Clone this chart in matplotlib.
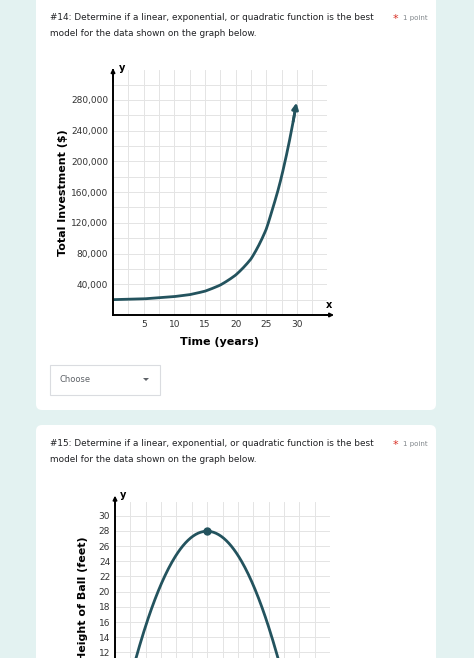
import matplotlib.pyplot as plt
import matplotlib.patches as patches
import numpy as np

W, H = 474, 658

# chart 1 data
years = [0, 2.5, 5, 7.5, 10, 12.5, 15, 17.5, 20, 22.5, 25, 26, 27, 28, 29, 30]
invest = [20000, 20500, 21000, 22500, 24000, 26500, 31000, 39000, 52000, 73000, 112000, 138000, 165000, 198000, 236000, 280000]
y_ticks1 = [40000, 80000, 120000, 160000, 200000, 240000, 280000]
x_ticks1 = [5, 10, 15, 20, 25, 30]

# chart 2 data
ball_x = [1.45, 2, 3, 4, 5, 6, 7, 8, 9, 10, 10.5]
ball_h = [12, 15.4, 20.9, 24.8, 27.2, 28, 27.2, 24.8, 20.9, 15.4, 12]
y_ticks2 = list(range(12, 31, 2))

title14 = ["#14: Determine if a linear, exponential, or quadratic function is the best",
           "model for the data shown on the graph below."]
title15 = ["#15: Determine if a linear, exponential, or quadratic function is the best",
           "model for the data shown on the graph below."]

fig = plt.figure(figsize=(W / 100, H / 100), dpi=100)
fig.patch.set_facecolor('#e3f2f1')

def px(x, y, w, h):
    return [x / W, 1 - (y + h) / H, w / W, h / H]

# cards
bg = fig.add_axes([0, 0, 1, 1])
bg.set_xlim(0, W)
bg.set_ylim(H, 0)
bg.axis('off')
bg.add_patch(patches.FancyBboxPatch((36, -10), 400, 420, boxstyle="round,pad=0,rounding_size=6",
                                    fc='white', ec='none'))
bg.add_patch(patches.FancyBboxPatch((36, 425), 400, 260, boxstyle="round,pad=0,rounding_size=6",
                                    fc='white', ec='none'))
for ty, lines in [(18, title14), (444, title15)]:
    for i, t in enumerate(lines):
        bg.text(50, ty + i * 15, t, fontsize=6.4, color='#202124', va='center')
    bg.text(393, ty + 1, '*', color='#d93025', fontsize=8, va='center')
    bg.text(403, ty, '1 point', color='#80868b', fontsize=5, va='center')
# dropdown
bg.add_patch(patches.Rectangle((50, 365), 110, 30, fc='white', ec='#dadce0', lw=0.8))
bg.text(60, 380, 'Choose', fontsize=6, color='#5f6368', va='center')
bg.add_patch(patches.Polygon([[143, 378], [149, 378], [146, 381]], fc='#5f6368', ec='none'))

line_c = '#23535e'
grid_c = '#e4e4e4'

def style(ax, xmax, ymax, xminor, yminor):
    for s in ['top', 'right']:
        ax.spines[s].set_visible(False)
    ax.spines['left'].set_linewidth(1.4)
    ax.spines['bottom'].set_linewidth(1.4)
    ax.set_xticks(np.arange(xminor, xmax, xminor), minor=True)
    ax.set_yticks(np.arange(yminor, ymax, yminor), minor=True)
    ax.grid(True, which='both', color=grid_c, lw=0.7)
    ax.tick_params(which='both', length=0, labelsize=6.5, colors='#333333')
    ax.set_axisbelow(True)

# chart 1: x 113..327 (0..34.9), y 315..70 (0..319000)
ax1 = fig.add_axes(px(113, 70, 214, 245))
ax1.set_xlim(0, 34.9)
ax1.set_ylim(0, 319000)
style(ax1, 35, 320000, 2.5, 20000)
ax1.set_xticks(x_ticks1)
ax1.set_yticks(y_ticks1)
ax1.set_yticklabels([f'{v:,}' for v in y_ticks1])
# smooth between the read points on a log scale
xs1 = np.linspace(0, 30, 300)
ys1 = np.exp(np.interp(xs1, years, np.log(invest)))
ax1.plot(xs1[:-3], ys1[:-3], color=line_c, lw=2, solid_capstyle='round')
ax1.annotate('', xy=(xs1[-1], ys1[-1]), xytext=(xs1[-8], ys1[-8]),
             arrowprops=dict(arrowstyle='-|>', color=line_c, lw=2, mutation_scale=9))
ax1.annotate('', xy=(0, 325000), xytext=(0, 300000), annotation_clip=False,
             arrowprops=dict(arrowstyle='-|>', color='black', lw=1.2, mutation_scale=6))
ax1.annotate('', xy=(36.5, 0), xytext=(34, 0), annotation_clip=False,
             arrowprops=dict(arrowstyle='-|>', color='black', lw=1.2, mutation_scale=6))
ax1.text(1, 322000, 'y', fontsize=7, fontweight='bold', va='center')
ax1.text(35.3, 9000, 'x', fontsize=7, fontweight='bold', ha='center')
ax1.set_xlabel('Time (years)', fontsize=8, fontweight='bold', labelpad=6)
ax1.set_ylabel('Total Investment ($)', fontsize=8, fontweight='bold', labelpad=2)

# chart 2: x 115..330 (0..14), y 502.. (31.8 at top, 7.6 px/ft)
top2 = 502
y_bottom = 0
h2 = (31.8 - y_bottom) * 7.6
ax2 = fig.add_axes(px(115, top2, 215, h2))
ax2.set_xlim(0, 14)
ax2.set_ylim(y_bottom, 31.8)
style(ax2, 14, 32, 1, 2)
ax2.set_xticks([])
ax2.set_yticks(y_ticks2)
coef = np.polyfit(ball_x, ball_h, 2)
xs = np.linspace(0.5, 11.5, 200)
ax2.plot(xs, np.polyval(coef, xs), color=line_c, lw=2)
ax2.plot([6], [28], 'o', color=line_c, ms=5)
ax2.annotate('', xy=(0, 33), xytext=(0, 31), annotation_clip=False,
             arrowprops=dict(arrowstyle='-|>', color='black', lw=1.2, mutation_scale=6))
ax2.text(0.3, 32.7, 'y', fontsize=7, fontweight='bold', va='center')
ax2.set_ylabel('Height of Ball (feet)', fontsize=8, fontweight='bold')
ax2.yaxis.set_label_coords(-0.125, 0.6)

fig.savefig('out.png', dpi=100, facecolor=fig.get_facecolor())
